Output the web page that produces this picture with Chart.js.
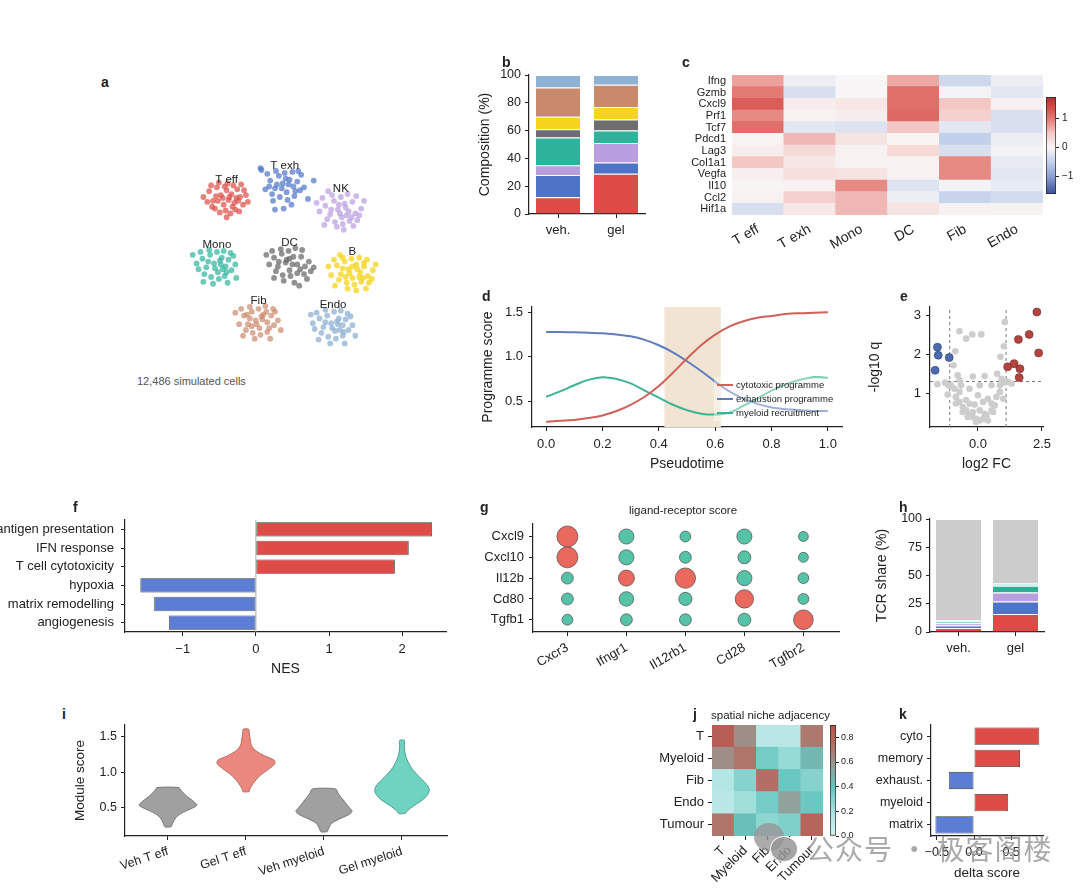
<!DOCTYPE html>
<html><head><meta charset="utf-8">
<script src="https://cdn.jsdelivr.net/npm/chart.js@4.4.1/dist/chart.umd.min.js"></script>
<style>
html,body{margin:0;padding:0;background:#fff;}
#page{position:relative;width:1080px;height:891px;overflow:hidden;background:#fff;font-family:"Liberation Sans",Arial,sans-serif;color:#222;}
.lbl{position:absolute;font-weight:bold;font-size:14px;line-height:14px;}
.txt{position:absolute;white-space:nowrap;line-height:1;}
</style></head><body><div id="page"></div>
<script>
// ---------- DATA ----------
// a: embedding
const cellTypes = ['T eff','T exh','NK','Mono','DC','B','Fib','Endo'];
const clusterCenters = [[225,197],[285,183],[343,207],[215,265],[290,263],[355,272],[258,323],[335,327]];
const clusterOffsets = [
 [[-18,-8],[-14,2],[-10,-12],[-6,-4],[-3,6],[0,-9],[2,1],[5,-5],[8,4],[11,-10],[14,-2],[17,6],[-20,3],[-12,10],[-7,14],[-1,12],[4,15],[9,11],[13,13],[-16,-14],[-8,-17],[1,-16],[7,-14],[15,-15],[20,-4],[22,3],[-4,-1],[3,-2],[-9,2],[10,-1],[6,8],[-2,-13],[-11,-3],[12,2],[-24,-2],[0,19],[-15,8],[18,-9]],
 [[-15,-5],[-10,3],[-6,-10],[-2,-2],[2,7],[5,-6],[9,1],[13,-4],[16,5],[-13,9],[-5,12],[3,15],[10,11],[-18,-12],[-9,-15],[0,-13],[8,-14],[17,-11],[20,2],[-20,4],[-3,3],[4,-1],[-8,-1],[11,6],[-24,-16],[24,14],[-1,24],[7,20],[-12,16],[14,-15],[-16,1],[1,-7],[-25,-18],[30,-5],[-10,25]],
 [[-16,-3],[-11,6],[-7,-8],[-3,1],[1,9],[4,-5],[8,3],[12,-7],[15,5],[-14,11],[-6,14],[2,16],[9,13],[17,12],[-19,-11],[-9,-14],[0,-12],[7,-15],[16,-13],[21,0],[-22,3],[-2,-4],[5,-1],[-10,1],[11,9],[-4,19],[13,18],[-25,-6],[24,-8],[-17,17],[3,22],[19,7],[-13,-18],[6,7],[-1,5]],
 [[-15,-6],[-11,3],[-7,-10],[-3,-1],[1,8],[5,-7],[9,2],[12,-5],[15,6],[-13,10],[-6,13],[2,15],[8,12],[-17,-13],[-8,-15],[0,-13],[7,-14],[14,-12],[19,0],[-19,5],[-2,4],[4,0],[-9,-3],[10,8],[-25,-10],[20,14],[-4,20],[11,19],[-14,18],[17,-9],[-21,-1],[3,-4],[6,5]],
 [[-16,-5],[-12,4],[-8,-9],[-4,0],[0,8],[4,-6],[8,2],[12,-6],[16,4],[-14,9],[-7,13],[1,14],[8,11],[15,12],[-18,-12],[-9,-14],[-1,-12],[6,-15],[13,-13],[20,-1],[-21,2],[-3,-3],[3,2],[-11,-1],[11,7],[22,9],[-24,-8],[5,21],[18,17],[10,24],[-6,19],[25,5],[-16,16],[0,-4]],
 [[-16,-6],[-12,3],[-8,-10],[-4,-2],[0,7],[4,-7],[8,1],[12,-5],[16,5],[-14,9],[-6,12],[2,14],[9,11],[17,12],[-19,-12],[-10,-14],[-1,-13],[7,-14],[15,-12],[21,-1],[-22,4],[-3,2],[5,-2],[-10,-3],[11,7],[-5,18],[14,18],[-25,-5],[24,-7],[-18,15],[4,20],[20,8],[-13,-17],[7,6],[0,-5],[-7,6],[12,-9]],
 [[-15,-5],[-11,4],[-7,-9],[-3,0],[1,8],[5,-6],[9,2],[13,-5],[16,5],[-13,10],[-6,13],[2,15],[9,12],[-18,-12],[-9,-14],[0,-12],[7,-15],[15,-12],[20,0],[-20,4],[-2,4],[4,-1],[-9,-2],[11,8],[-24,-8],[23,10],[-4,19],[12,19],[-16,16],[17,-9],[3,-4],[-7,6],[8,-9],[-12,-6]],
 [[-14,-6],[-10,3],[-6,-9],[-2,-1],[2,7],[6,-6],[10,1],[13,-5],[16,6],[-12,9],[-5,13],[3,15],[10,12],[-17,-12],[-8,-15],[1,-13],[8,-14],[15,-11],[20,1],[-19,5],[-1,4],[5,0],[-8,-2],[11,8],[-23,-10],[23,12],[-3,20],[12,20],[-15,16],[18,-8],[-21,-1],[4,-3],[7,6]]
];
const cellCountText = '12,486 simulated cells';

// b: composition
const compGroups = ['veh.','gel'];
const compVeh = [12,16,7,20,6,9,21,9];
const compGel = [29,8,14,9,8,9,16,7];

// c: marker heatmap
const hmGenes = ['Ifng','Gzmb','Cxcl9','Prf1','Tcf7','Pdcd1','Lag3','Col1a1','Vegfa','Il10','Ccl2','Hif1a'];
const hmCells = ['T eff','T exh','Mono','DC','Fib','Endo'];
const hmValues = [
 [0.75,-0.10,0.00,0.70,-0.40,-0.10],
 [1.00,-0.30,0.00,1.10,-0.05,-0.20],
 [1.25,0.10,0.15,1.10,0.50,0.05],
 [0.90,0.05,0.10,1.15,0.40,-0.30],
 [1.10,-0.20,-0.25,0.50,-0.20,-0.30],
 [0.02,0.60,0.20,0.02,-0.50,-0.10],
 [0.10,0.30,0.05,0.30,-0.30,-0.05],
 [0.50,0.15,0.05,0.05,0.90,-0.15],
 [0.08,0.25,0.20,0.05,0.90,-0.20],
 [0.02,0.05,0.90,-0.25,-0.05,-0.15],
 [0.05,0.40,0.60,-0.10,-0.45,-0.35],
 [-0.30,0.15,0.60,0.20,0.05,0.03]
];
const hmRange = [-1.6, 1.75];
const hmTicks = [-1, 0, 1];

// d: pseudotime
const pseudotime = [0,0.05,0.1,0.15,0.2,0.25,0.3,0.35,0.4,0.45,0.5,0.55,0.6,0.65,0.7,0.75,0.8,0.85,0.9,0.95,1.0];
const cytotoxic  = [0.27,0.28,0.29,0.31,0.34,0.39,0.46,0.55,0.67,0.82,0.98,1.13,1.25,1.34,1.40,1.44,1.46,1.48,1.49,1.495,1.50];
const exhaustion = [1.28,1.278,1.275,1.27,1.265,1.25,1.23,1.19,1.13,1.05,0.95,0.84,0.72,0.61,0.53,0.47,0.43,0.41,0.40,0.39,0.39];
const myeloidRec = [0.55,0.61,0.68,0.74,0.77,0.75,0.70,0.62,0.54,0.46,0.40,0.36,0.35,0.37,0.45,0.53,0.62,0.69,0.74,0.77,0.76];
const programmeNames = ['cytotoxic programme','exhaustion programme','myeloid recruitment'];
const transitionWindow = [0.42, 0.62];

// e: volcano
const volcanoGrey = [[-0.72,2.60],[-0.22,2.52],[0.13,2.52],[-0.46,2.41],[1.05,2.84],[1.01,2.21],[0.88,1.94],[-0.88,2.08],[-0.95,1.72],[-0.79,1.46],[-0.20,1.43],[0.26,1.44],[0.75,1.50],[0.92,1.37],[1.32,1.24],[-1.58,1.23],[-1.28,1.27],[-1.18,0.96],[-0.92,1.11],[-0.66,1.20],[-0.33,1.11],[0.07,1.20],[0.53,1.20],[0.86,1.03],[0.99,0.85],[0.72,0.90],[-0.86,0.90],[-0.72,0.77],[-0.59,0.64],[-0.46,0.55],[-0.33,0.46],[-0.20,0.38],[-0.07,0.33],[0.07,0.29],[0.20,0.33],[0.33,0.42],[0.53,0.55],[0.66,0.68],[-0.13,0.70],[0.20,0.77],[-0.46,0.82],[0.00,0.94],[0.39,0.85],[-0.72,1.03],[-1.05,1.20],[0.86,1.20],[-0.33,0.72],[0.07,0.55],[-0.20,0.51],[0.26,0.46],[-0.40,0.38],[0.39,0.29],[-0.07,0.25],[-0.59,0.51],[0.59,0.51],[0.53,0.73],[-0.86,0.73],[-1.15,1.20],[1.18,1.29],[1.01,1.27],[-0.72,1.33]];
const volcanoDown = [[-1.58,2.19],[-1.55,1.98],[-1.67,1.59],[-1.12,1.92]];
const volcanoUp = [[2.30,3.10],[2.00,2.52],[1.58,2.39],[2.37,2.04],[1.16,1.68],[1.41,1.76],[1.64,1.63],[1.61,1.40]];
const fcThreshold = 1.1;
const qThreshold = 1.3;

// f: NES
const nesTerms = ['antigen presentation','IFN response','T cell cytotoxicity','hypoxia','matrix remodelling','angiogenesis'];
const nesValues = [2.41,2.09,1.90,-1.58,-1.39,-1.19];

// g: ligand-receptor
const ligands = ['Cxcl9','Cxcl10','Il12b','Cd80','Tgfb1'];
const receptors = ['Cxcr3','Ifngr1','Il12rb1','Cd28','Tgfbr2'];
const lrScore = [
 [1.00,0.55,0.22,0.55,0.15],
 [1.00,0.55,0.30,0.38,0.15],
 [0.30,0.62,0.95,0.55,0.22],
 [0.30,0.50,0.40,0.80,0.22],
 [0.22,0.30,0.30,0.38,0.90]
];
const lrMatched = [
 [1,0,0,0,0],
 [1,0,0,0,0],
 [0,1,1,0,0],
 [0,0,0,1,0],
 [0,0,0,0,1]
];

// h: TCR share
const tcrGroups = ['veh.','gel'];
const tcrVeh = [3.5,2.2,2.0,1.5,1.3,89.5];
const tcrGel = [16,11,8,6,2,57];

// i: violins (module score vs half-width)
const violinGroups = ['Veh T eff','Gel T eff','Veh myeloid','Gel myeloid'];
const violinY = [
 [0.22,0.27,0.35,0.42,0.48,0.53,0.58,0.64,0.70,0.75,0.78],
 [0.72,0.76,0.85,0.95,1.05,1.12,1.17,1.23,1.30,1.36,1.42,1.50,1.57,1.61],
 [0.15,0.20,0.27,0.33,0.39,0.44,0.50,0.57,0.64,0.70,0.76],
 [0.41,0.45,0.52,0.60,0.68,0.75,0.82,0.90,0.98,1.06,1.14,1.22,1.30,1.38,1.45]
];
const violinHalfWidth = [
 [0.04,0.06,0.10,0.18,0.30,0.37,0.33,0.26,0.20,0.16,0.14],
 [0.04,0.05,0.10,0.18,0.30,0.37,0.36,0.24,0.13,0.08,0.06,0.05,0.04,0.035],
 [0.04,0.06,0.10,0.19,0.31,0.36,0.32,0.27,0.22,0.18,0.15],
 [0.04,0.07,0.15,0.26,0.33,0.35,0.32,0.25,0.18,0.12,0.08,0.05,0.035,0.03,0.03]
];

// j: spatial niche adjacency
const nicheTypes = ['T','Myeloid','Fib','Endo','Tumour'];
const nicheValues = [
 [0.83,0.62,0.13,0.13,0.70],
 [0.62,0.72,0.35,0.25,0.45],
 [0.15,0.30,0.75,0.38,0.30],
 [0.12,0.22,0.35,0.55,0.38],
 [0.72,0.42,0.28,0.32,0.80]
];
const nicheRange = [0, 0.9];

// k: delta score
const deltaPrograms = ['cyto','memory','exhaust.','myeloid','matrix'];
const deltaValues = [0.88,0.62,-0.34,0.46,-0.52];

// ---------- STYLE ----------
Chart.defaults.font.family = '"Liberation Sans", Arial, sans-serif';
Chart.defaults.color = '#222';
const typeColors = ['#dc4b45','#4e74c8','#b89ddf','#2db39c','#6d6d6d','#f6d31c','#c98a6c','#8fb1d4'];
const typeAlpha = ['rgba(220,75,69,0.7)','rgba(78,116,200,0.7)','rgba(184,157,223,0.7)','rgba(45,179,156,0.7)','rgba(100,100,100,0.7)','rgba(246,211,28,0.75)','rgba(201,138,108,0.7)','rgba(143,177,212,0.75)'];
const RED = '#dd4c47', BLUE = '#5b7ed4';
const hmStops = [[-1.6,[58,80,150]],[-1.0,[140,160,210]],[-0.5,[195,208,235]],[0,[248,246,246]],[0.5,[243,200,196]],[1.0,[228,122,116]],[1.4,[212,76,72]],[1.75,[172,48,52]]];
const nicheStops = [[0,[214,241,241]],[0.2,[168,226,222]],[0.4,[100,196,190]],[0.55,[145,162,157]],[0.7,[173,120,110]],[0.9,[190,82,72]]];
const AX = '#222';
const page = document.getElementById('page');

function cmap(stops, v) {
  const c = a => `rgb(${a.map(Math.round).join(',')})`;
  if (v <= stops[0][0]) return c(stops[0][1]);
  for (let i = 1; i < stops.length; i++) {
    if (v <= stops[i][0]) {
      const t = (v - stops[i-1][0]) / (stops[i][0] - stops[i-1][0]);
      const a = stops[i-1][1], b = stops[i][1];
      return c(a.map((x,k) => x + (b[k]-x)*t));
    }
  }
  return c(stops[stops.length-1][1]);
}
function gradientFor(stops, range) {
  return (ctx) => {
    const ch = ctx.chart, a = ch.chartArea;
    if (!a) return '#ccc';
    const g = ch.ctx.createLinearGradient(0, a.bottom, 0, a.top);
    stops.forEach(s => g.addColorStop(Math.min(1, Math.max(0, (s[0]-range[0])/(range[1]-range[0]))), cmap(stops, s[0])));
    return g;
  };
}
const fmt = (v, d) => (v < 0 ? '\u2212' : '') + Math.abs(v).toFixed(d);

function axis(o) {
  o = o || {};
  const a = {
    type: o.type || 'linear',
    display: o.display !== false,
    grid: {display: true, drawOnChartArea: false, drawTicks: !o.noTicks, tickLength: o.tl || 4, tickWidth: 1, tickColor: AX, color: AX, offset: false},
    border: {display: o.border !== false, color: AX, width: 1.2},
    ticks: {color: AX, font: {size: o.fs || 12.5}, padding: o.pad !== undefined ? o.pad : 4, maxRotation: o.rot || 0, minRotation: o.rot || 0, autoSkip: false, includeBounds: false},
    title: {display: !!o.title, text: o.title || '', font: {size: o.tfs || 14}, color: AX, padding: {top: 0, bottom: 0}}
  };
  ['position','min','max','reverse','stacked','offset'].forEach(k => { if (o[k] !== undefined) a[k] = o[k]; });
  if (o.cb) a.ticks.callback = o.cb;
  if (o.ticksAt) a.afterBuildTicks = s => { s.ticks = o.ticksAt.map(v => ({value: v})); };
  return a;
}

function place(box, m, cfg) {
  const W = box.r - box.l + m.l + m.r, H = box.b - box.t + m.t + m.b;
  const div = document.createElement('div');
  div.style.cssText = `position:absolute;left:${box.l - m.l}px;top:${box.t - m.t}px;width:${W}px;height:${H}px;`;
  const cv = document.createElement('canvas');
  cv.width = W; cv.height = H; cv.style.width = W + 'px'; cv.style.height = H + 'px';
  div.appendChild(cv); page.appendChild(div);
  const o = cfg.options = cfg.options || {};
  o.responsive = false; o.animation = false; o.devicePixelRatio = 1;
  o.plugins = Object.assign({legend: {display: false}, tooltip: {enabled: false}}, o.plugins || {});
  const used = {left: false, right: false, top: false, bottom: false};
  for (const id in (o.scales || {})) {
    const s = o.scales[id];
    if (s.display === false) continue;
    const pos = s.position || (id[0] === 'x' ? 'bottom' : 'left');
    s.position = pos; used[pos] = true;
    s.afterFit = (sc) => {
      if (pos === 'bottom') sc.height = m.b; else if (pos === 'top') sc.height = m.t;
      else if (pos === 'left') sc.width = m.l; else sc.width = m.r;
      sc.paddingLeft = 0; sc.paddingRight = 0; sc.paddingTop = 0; sc.paddingBottom = 0;
    };
  }
  o.layout = {padding: {left: used.left ? 0 : m.l, right: used.right ? 0 : m.r, top: used.top ? 0 : m.t, bottom: used.bottom ? 0 : m.b}};
  return new Chart(cv, cfg);
}
function addText(txt, left, top, css) {
  const d = document.createElement('div');
  d.className = 'txt'; d.textContent = txt;
  d.style.left = left + 'px'; d.style.top = top + 'px';
  if (css) d.style.cssText += css;
  page.appendChild(d); return d;
}
function addLetter(t, x, y) { const d = document.createElement('div'); d.className = 'lbl'; d.textContent = t; d.style.left = x + 'px'; d.style.top = y + 'px'; page.appendChild(d); }

// ---------- a ----------
const clusterLabels = {
  id: 'clusterLabels',
  afterDatasetsDraw(ch) {
    const {ctx, scales: {x, y}} = ch;
    ctx.save(); ctx.font = '11.5px "Liberation Sans", Arial'; ctx.fillStyle = '#222'; ctx.textAlign = 'center'; ctx.textBaseline = 'middle';
    cellTypes.forEach((n, i) => ctx.fillText(n, x.getPixelForValue(clusterCenters[i][0]), y.getPixelForValue(clusterCenters[i][1] - 20)));
    ctx.restore();
  }
};
place({l:150, t:140, r:400, b:360}, {l:0, t:0, r:0, b:0}, {
  type: 'scatter',
  data: {datasets: cellTypes.map((n, i) => ({label: n, data: clusterOffsets[i].map(p => ({x: clusterCenters[i][0] + p[0], y: clusterCenters[i][1] + p[1]})), backgroundColor: typeAlpha[i], borderWidth: 0, pointRadius: 2.9}))},
  options: {scales: {x: {display: false, min: 150, max: 400}, y: {display: false, min: 140, max: 360, reverse: true}}},
  plugins: [clusterLabels]
});
addText(cellCountText, 137, 376, 'font-size:11px;color:#555;');

// ---------- b ----------
place({l:529, t:75, r:645, b:214}, {l:52, t:8, r:6, b:34}, {
  type: 'bar',
  data: {labels: compGroups, datasets: cellTypes.map((n, i) => ({label: n, data: [compVeh[i], compGel[i]], backgroundColor: typeColors[i], borderColor: 'rgba(255,255,255,0.75)', borderWidth: {top: 1, left: 0, right: 0, bottom: 0}, borderSkipped: false, barPercentage: 0.76, categoryPercentage: 1}))},
  options: {scales: {
    x: axis({type: 'category', stacked: true, pad: 5, fs: 13}),
    y: axis({min: 0, max: 100, stacked: true, ticksAt: [0,20,40,60,80,100], title: 'Composition (%)', fs: 12.5})
  }}
});

// ---------- c ----------
place({l:732, t:75, r:1043, b:215}, {l:70, t:5, r:3, b:45}, {
  type: 'bar',
  data: {labels: hmCells, datasets: hmGenes.map((g, gi) => gi).reverse().map(gi => ({label: hmGenes[gi], data: hmCells.map(() => 1), backgroundColor: hmValues[gi].map(v => cmap(hmStops, v)), borderWidth: 0, barPercentage: 1, categoryPercentage: 1}))},
  options: {scales: {
    x: axis({type: 'category', stacked: true, noTicks: true, border: false, rot: 30, fs: 14, pad: 6}),
    y: axis({min: 0, max: hmGenes.length, stacked: true, noTicks: true, border: false, fs: 11, pad: 6, ticksAt: hmGenes.map((g, i) => hmGenes.length - 0.5 - i), cb: v => hmGenes[hmGenes.length - 1 - Math.floor(v)]})
  }}
});
place({l:1046, t:97, r:1056, b:194}, {l:0, t:3, r:26, b:3}, {
  type: 'bar',
  data: {labels: ['z'], datasets: [{data: [hmRange], backgroundColor: gradientFor(hmStops, hmRange), borderColor: '#222', borderWidth: 1, borderSkipped: false, barPercentage: 1, categoryPercentage: 1}]},
  options: {scales: {x: {display: false}, y: axis({position: 'right', min: hmRange[0], max: hmRange[1], ticksAt: hmTicks, cb: v => fmt(v, 0), fs: 10, tl: 3, pad: 3, border: false})}}
});

// ---------- d ----------
const shade = {
  id: 'shade',
  beforeDatasetsDraw(ch) {
    const {ctx, chartArea: a, scales: {x}} = ch;
    const x0 = x.getPixelForValue(transitionWindow[0]), x1 = x.getPixelForValue(transitionWindow[1]);
    ctx.save(); ctx.fillStyle = '#f1e4d3'; ctx.fillRect(x0, a.top, x1 - x0, a.bottom - a.top); ctx.restore();
  }
};
const progColors = ['#d0605a','#5f7dbd','#3db393'];
place({l:532, t:307, r:842, b:427}, {l:52, t:6, r:10, b:46}, {
  type: 'line',
  data: {datasets: [cytotoxic, exhaustion, myeloidRec].map((arr, k) => ({label: programmeNames[k], data: pseudotime.map((t, i) => ({x: t, y: arr[i]})), borderColor: progColors[k], borderWidth: 2, pointRadius: 0, tension: 0.4, fill: false}))},
  options: {scales: {
    x: axis({min: -0.05, max: 1.05, ticksAt: [0,0.2,0.4,0.6,0.8,1.0], cb: v => v.toFixed(1), title: 'Pseudotime', fs: 13, pad: 6}),
    y: axis({min: 0.21, max: 1.56, ticksAt: [0.5,1.0,1.5], cb: v => v.toFixed(1), title: 'Programme score', fs: 13, pad: 5})
  }},
  plugins: [shade]
});
(function legendD() {
  const box = document.createElement('div');
  box.style.cssText = 'position:absolute;left:714px;top:377px;width:126px;height:44px;background:rgba(255,255,255,0.4);';
  page.appendChild(box);
  programmeNames.forEach((n, k) => {
    const ln = document.createElement('div');
    ln.style.cssText = `position:absolute;left:717px;top:${384 + k*14}px;width:16px;height:2px;background:${progColors[k]};`;
    page.appendChild(ln);
    addText(n, 736, 380 + k*14, 'font-size:9.5px;color:#222;');
  });
})();

// ---------- e ----------
place({l:930, t:307, r:1043, b:427}, {l:63, t:6, r:20, b:46}, {
  type: 'scatter',
  data: {datasets: [
    {data: volcanoUp.map(p => ({x: p[0], y: p[1]})), backgroundColor: '#b5443f', borderColor: '#6a2a28', borderWidth: 0.6, pointRadius: 4},
    {data: volcanoDown.map(p => ({x: p[0], y: p[1]})), backgroundColor: '#4d6bb0', borderColor: '#2c3d66', borderWidth: 0.6, pointRadius: 4},
    {data: volcanoGrey.map(p => ({x: p[0], y: p[1]})), backgroundColor: '#cdcdcd', borderWidth: 0, pointRadius: 3.3},
    {data: [{x: -fcThreshold, y: 0.12}, {x: -fcThreshold, y: 3.23}], showLine: true, borderColor: '#777', borderWidth: 1, borderDash: [3,3], pointRadius: 0},
    {data: [{x: fcThreshold, y: 0.12}, {x: fcThreshold, y: 3.23}], showLine: true, borderColor: '#777', borderWidth: 1, borderDash: [3,3], pointRadius: 0},
    {data: [{x: -1.87, y: qThreshold}, {x: 2.54, y: qThreshold}], showLine: true, borderColor: '#777', borderWidth: 1, borderDash: [3,3], pointRadius: 0}
  ]},
  options: {scales: {
    x: axis({min: -1.87, max: 2.54, ticksAt: [0, 2.5], cb: v => v.toFixed(1), title: 'log2 FC', fs: 13, pad: 6}),
    y: axis({min: 0.12, max: 3.23, ticksAt: [1,2,3], title: '-log10 q', fs: 13, pad: 5})
  }}
});

// ---------- f ----------
const zeroLine = {
  id: 'zeroLine',
  beforeDatasetsDraw(ch) {
    const {ctx, chartArea: a, scales: {x}} = ch; const px = x.getPixelForValue(0);
    ctx.save(); ctx.strokeStyle = '#aaa'; ctx.lineWidth = 1; ctx.beginPath(); ctx.moveTo(px, a.top); ctx.lineTo(px, a.bottom); ctx.stroke(); ctx.restore();
  }
};
place({l:125, t:520, r:446, b:632}, {l:165, t:6, r:6, b:46}, {
  type: 'bar',
  data: {labels: nesTerms, datasets: [{data: nesValues, backgroundColor: nesValues.map(v => v > 0 ? RED : BLUE), borderColor: '#333', borderWidth: 0.8, borderSkipped: false, barPercentage: 0.77, categoryPercentage: 1}]},
  options: {indexAxis: 'y', scales: {
    x: axis({min: -1.79, max: 2.6, ticksAt: [-1,0,1,2], cb: v => fmt(v, 0), title: 'NES', fs: 13, pad: 6}),
    y: axis({type: 'category', fs: 13, pad: 7})
  }},
  plugins: [zeroLine]
});

// ---------- g ----------
const lrPoints = [], lrColors = [];
ligands.forEach((lg, li) => receptors.forEach((rc, ri) => {
  lrPoints.push({x: ri, y: li, r: 4 + 6.5 * lrScore[li][ri]});
  lrColors.push(lrMatched[li][ri] ? '#e9695f' : '#55c3a8');
}));
place({l:533, t:518, r:845, b:632}, {l:60, t:6, r:6, b:50}, {
  type: 'bubble',
  data: {datasets: [{data: lrPoints, backgroundColor: lrColors, borderColor: '#4a4a4a', borderWidth: 0.7}]},
  options: {scales: {
    x: axis({min: -0.583, max: 4.617, ticksAt: [0,1,2,3,4], cb: v => receptors[v], rot: 30, fs: 13, pad: 4}),
    y: axis({min: -0.64, max: 4.59, reverse: true, ticksAt: [0,1,2,3,4], cb: v => ligands[v], fs: 13, pad: 5})
  }}
});
addText('ligand-receptor score', 629, 505, 'font-size:11.5px;color:#222;');

// ---------- h ----------
const tcrColors = ['#dc4b45','#4e74c8','#b89ddf','#2fae96','#a9dcd6','#cccccc'];
place({l:930, t:519, r:1044, b:632}, {l:56, t:6, r:4, b:34}, {
  type: 'bar',
  data: {labels: tcrGroups, datasets: tcrColors.map((c, i) => ({data: [tcrVeh[i], tcrGel[i]], backgroundColor: c, borderColor: 'rgba(255,255,255,0.8)', borderWidth: {top: 1, left: 0, right: 0, bottom: 0}, borderSkipped: false, barPercentage: 0.79, categoryPercentage: 1}))},
  options: {scales: {
    x: axis({type: 'category', stacked: true, pad: 5, fs: 13}),
    y: axis({min: 0, max: 100, stacked: true, ticksAt: [0,25,50,75,100], title: 'TCR share (%)', fs: 12.5})
  }}
});

// ---------- i ----------
const violinFill = ['rgba(160,160,160,1)','rgba(234,136,128,1)','rgba(160,160,160,1)','rgba(112,210,192,1)'];
const violinEdge = ['#777','#b86a63','#777','#4e9d8e'];
place({l:125, t:725, r:447, b:836}, {l:53, t:8, r:6, b:50}, {
  type: 'line',
  data: {datasets: violinGroups.map((g, k) => {
    const right = violinY[k].map((y, i) => ({x: k + violinHalfWidth[k][i], y}));
    const left = violinY[k].map((y, i) => ({x: k - violinHalfWidth[k][i], y})).reverse();
    return {label: g, data: right.concat(left, [right[0]]), borderColor: violinEdge[k], backgroundColor: violinFill[k], borderWidth: 1, pointRadius: 0, tension: 0.3, fill: 'shape'};
  })},
  options: {scales: {
    x: axis({min: -0.551, max: 3.577, ticksAt: [0,1,2,3], cb: v => violinGroups[v], rot: 18, fs: 12.5, pad: 4}),
    y: axis({min: 0.09, max: 1.67, ticksAt: [0.5,1.0,1.5], cb: v => v.toFixed(1), title: 'Module score', fs: 12.5, tfs: 13.5})
  }}
});

// ---------- j ----------
place({l:712, t:725, r:823, b:836}, {l:90, t:14, r:2, b:62}, {
  type: 'bar',
  data: {labels: nicheTypes, datasets: nicheTypes.map((n, ri) => ri).reverse().map(ri => ({label: nicheTypes[ri], data: nicheTypes.map(() => 1), backgroundColor: nicheValues[ri].map(v => cmap(nicheStops, v)), borderWidth: 0, barPercentage: 1, categoryPercentage: 1}))},
  options: {scales: {
    x: axis({type: 'category', stacked: true, border: false, rot: 45, fs: 13, pad: 3}),
    y: axis({min: 0, max: nicheTypes.length, stacked: true, border: false, fs: 13, pad: 4, ticksAt: nicheTypes.map((n, i) => nicheTypes.length - 0.5 - i), cb: v => nicheTypes[nicheTypes.length - 1 - Math.floor(v)]})
  }}
});
place({l:830, t:725, r:836, b:836}, {l:0, t:2, r:26, b:2}, {
  type: 'bar',
  data: {labels: ['z'], datasets: [{data: [nicheRange], backgroundColor: gradientFor(nicheStops, nicheRange), borderColor: '#222', borderWidth: 1, borderSkipped: false, barPercentage: 1, categoryPercentage: 1}]},
  options: {scales: {x: {display: false}, y: axis({position: 'right', min: nicheRange[0], max: nicheRange[1], ticksAt: [0,0.2,0.4,0.6,0.8], cb: v => v.toFixed(1), fs: 9, tl: 3, pad: 2, border: false})}}
});
addText('spatial niche adjacency', 711, 710, 'font-size:11.5px;color:#222;');

// ---------- k ----------
place({l:931, t:725, r:1043, b:836}, {l:80, t:6, r:4, b:45}, {
  type: 'bar',
  data: {labels: deltaPrograms, datasets: [{data: deltaValues, backgroundColor: deltaValues.map(v => v > 0 ? RED : BLUE), borderColor: '#333', borderWidth: 0.8, borderSkipped: false, barPercentage: 0.78, categoryPercentage: 1}]},
  options: {indexAxis: 'y', scales: {
    x: axis({min: -0.58, max: 0.93, ticksAt: [-0.5,0,0.5], cb: v => fmt(v, 1), title: 'delta score', fs: 12.5, tfs: 13.5, pad: 5}),
    y: axis({type: 'category', fs: 12.5, pad: 4})
  }}
});

// ---------- panel letters ----------
[['a',101,75],['b',502,55],['c',682,55],['d',482,289],['e',900,289],['f',73,500],['g',480,500],['h',899,500],['i',62,707],['j',693,707],['k',899,707]].forEach(p => addLetter(p[0], p[1], p[2]));

// ---------- watermark ----------
(function wm() {
  const c1 = document.createElement('div');
  c1.style.cssText = 'position:absolute;left:754px;top:823px;width:30px;height:28px;border-radius:50%;background:rgba(150,150,150,0.8);';
  const c2 = document.createElement('div');
  c2.style.cssText = 'position:absolute;left:770px;top:836px;width:26px;height:24px;border-radius:50%;background:rgba(150,150,150,0.85);border:1.5px solid rgba(255,255,255,0.9);';
  page.appendChild(c1); page.appendChild(c2);
  addText('公众号 · 极客阁楼', 806, 834, 'font-size:28px;color:rgba(140,140,140,0.75);font-family:"Noto Sans CJK SC",sans-serif;letter-spacing:1px;');
})();
</script></body></html>
